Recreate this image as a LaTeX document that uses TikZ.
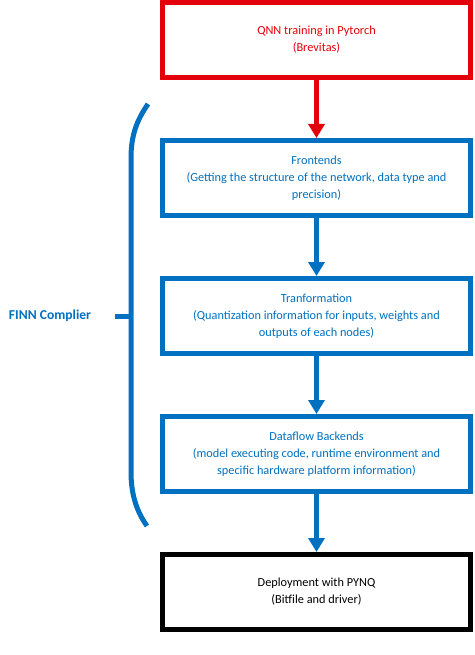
\documentclass[tikz,border=0pt]{standalone}
\usepackage{fontspec}
\setmainfont{Carlito}
\usetikzlibrary{positioning,arrows.meta}
\definecolor{finnblue}{RGB}{0,112,192}
\definecolor{qnnred}{RGB}{228,0,10}
\tikzstyle{stage}=[draw=finnblue, text=finnblue, line width=5pt, minimum width=308pt, minimum height=75pt, align=center, font=\fontsize{12.3}{17}\selectfont]
\tikzstyle{train}=[stage, draw=qnnred, text=qnnred]
\tikzstyle{deploy}=[stage, draw=black, text=black]
\tikzstyle{flow}=[line width=5pt, -{Triangle[width=16pt,length=14pt]}]

\begin{document}
\begin{tikzpicture}[x=1pt,y=-1pt]
		\useasboundingbox (0,0) rectangle (474,655);
		\node[train] (QNN) at (316.5,40) {QNN training in Pytorch\\(Brevitas)};
		\node[stage] (FE) [below = 58pt of QNN] {Frontends\\(Getting the structure of the network, data type and\\precision)};
		\node[stage] (TF) [below = 58pt of FE] {Tranformation\\(Quantization information for inputs, weights and\\outputs of each nodes)};
		\node[stage] (DB) [below = 58pt of TF] {Dataflow Backends\\(model executing code, runtime environment and\\specific hardware platform information)};
		\node[deploy] (PY) [below = 58pt of DB] {Deployment with PYNQ\\(Bitfile and driver)};
		\draw (QNN) edge[flow, qnnred] (FE);
		\draw (FE) edge[flow, finnblue] (TF);
		\draw (TF) edge[flow, finnblue] (DB);
		\draw (DB) edge[flow, finnblue] (PY);
		% brace round the compiler stages
		\coordinate (brace) at (131,316);
		\draw[finnblue, line width=5pt] (148,104) .. controls (137,120) and (131,135) .. (131,158) -- (131,472) .. controls (131,495) and (137,512) .. (147,526);
		\draw[finnblue, line width=5pt] (brace) -- ++(-16,0);
		\node[text=finnblue, inner sep=0pt, font=\fontsize{13.6}{15}\selectfont\bfseries] (FINN) at (50,316) {FINN Complier};
	\end{tikzpicture}
\end{document}
